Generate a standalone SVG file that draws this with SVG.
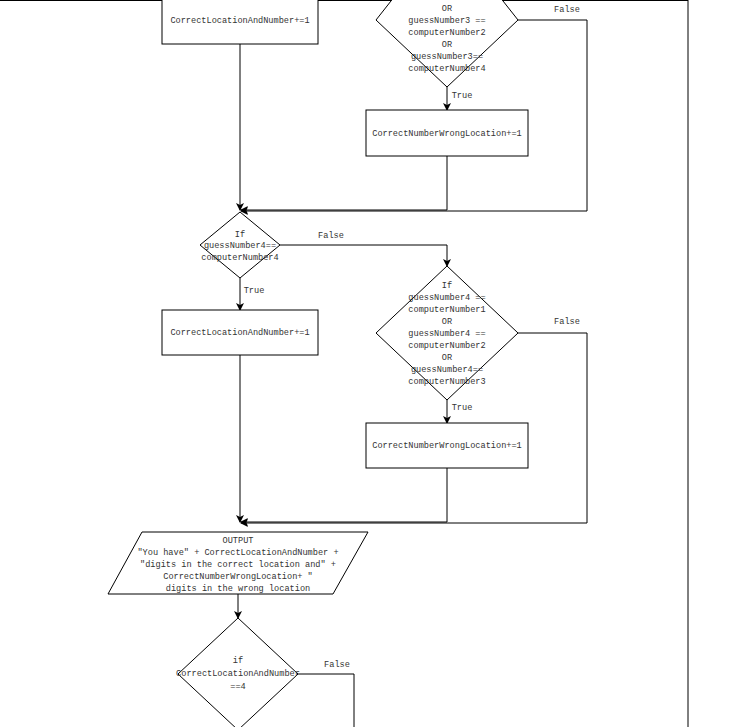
<svg xmlns="http://www.w3.org/2000/svg" width="736" height="727" viewBox="0 0 736 727">
<style>
.s{fill:#fff;stroke:#000;stroke-width:1}
.t{font-family:"Liberation Mono",monospace;font-size:8.6px;fill:#333;text-anchor:middle}
.l{fill:none;stroke:#000;stroke-width:1}
</style>
<defs><marker id="a" markerWidth="8" markerHeight="8" refX="7" refY="4" orient="auto" markerUnits="userSpaceOnUse"><path d="M0,0L8,4L0,8L2,4z" fill="#000"/></marker></defs>
<rect width="736" height="727" fill="#fff"/>
<g id="frame"><line class="l" x1="0" y1="0.5" x2="688" y2="0.5"/><line class="l" x1="688" y1="0" x2="688" y2="727"/></g>
<g id="connectors">
<path class="l" d="M240,44V210" marker-end="url(#a)"/>
<path class="l" d="M447,87V110" marker-end="url(#a)"/>
<path class="l" d="M447,156V210H241" marker-end="url(#a)"/>
<path class="l" d="M518,20H587V211H241" marker-end="url(#a)"/>
<path class="l" d="M280,245H447V266" marker-end="url(#a)"/>
<path class="l" d="M240,278V310" marker-end="url(#a)"/>
<path class="l" d="M240,355V522" marker-end="url(#a)"/>
<path class="l" d="M447,400V423" marker-end="url(#a)"/>
<path class="l" d="M447,468V522H241" marker-end="url(#a)"/>
<path class="l" d="M518,333H587V523H241" marker-end="url(#a)"/>
<path class="l" d="M238,594V618" marker-end="url(#a)"/>
<path class="l" d="M298,674H354V727"/>
<text class="t" x="567" y="12">False</text><text class="t" x="462" y="98">True</text>
<text class="t" x="331" y="238">False</text><text class="t" x="254" y="293">True</text>
<text class="t" x="567" y="324">False</text><text class="t" x="462" y="410">True</text>
<text class="t" x="337" y="667">False</text>
</g>
<g id="n1"><rect class="s" x="162" y="-1" width="156" height="45"/><text class="t" x="240" y="23">CorrectLocationAndNumber+=1</text></g>
<g id="n2"><polygon class="s" points="447,-70 518,20 447,87 376,20"/>
<text class="t" x="447" y="11">OR</text><text class="t" x="447" y="23">guessNumber3 ==</text><text class="t" x="447" y="35">computerNumber2</text><text class="t" x="447" y="47">OR</text><text class="t" x="447" y="59">guessNumber3==</text><text class="t" x="447" y="71">computerNumber4</text></g>
<g id="n3"><rect class="s" x="366" y="110" width="162" height="46"/><text class="t" x="447" y="136">CorrectNumberWrongLocation+=1</text></g>
<g id="n4"><polygon class="s" points="240,212 280,245 240,278 200,245"/>
<text class="t" x="240" y="237">If</text><text class="t" x="240" y="248">guessNumber4==</text><text class="t" x="240" y="260">computerNumber4</text></g>
<g id="n5"><rect class="s" x="162" y="310" width="156" height="45"/><text class="t" x="240" y="335">CorrectLocationAndNumber+=1</text></g>
<g id="n6"><polygon class="s" points="447,266 518,333 447,400 376,333"/>
<text class="t" x="447" y="288">If</text><text class="t" x="447" y="300">guessNumber4 ==</text><text class="t" x="447" y="312">computerNumber1</text><text class="t" x="447" y="324">OR</text><text class="t" x="447" y="336">guessNumber4 ==</text><text class="t" x="447" y="348">computerNumber2</text><text class="t" x="447" y="360">OR</text><text class="t" x="447" y="372">guessNumber4==</text><text class="t" x="447" y="384">computerNumber3</text></g>
<g id="n7"><rect class="s" x="366" y="423" width="162" height="45"/><text class="t" x="447" y="448">CorrectNumberWrongLocation+=1</text></g>
<g id="n8"><polygon class="s" points="108,594 142,532 368,532 333,594"/>
<text class="t" x="238" y="543">OUTPUT</text><text class="t" x="238" y="555">"You have" + CorrectLocationAndNumber +</text><text class="t" x="238" y="567">"digits in the correct location and" +</text><text class="t" x="238" y="579">CorrectNumberWrongLocation+ "</text><text class="t" x="238" y="591">digits in the wrong location</text></g>
<g id="n9"><polygon class="s" points="238,618 298,674 238,730 178,674"/>
<text class="t" x="238" y="663">if</text><text class="t" x="238" y="676">CorrectLocationAndNumber</text><text class="t" x="238" y="689">==4</text></g>
</svg>
